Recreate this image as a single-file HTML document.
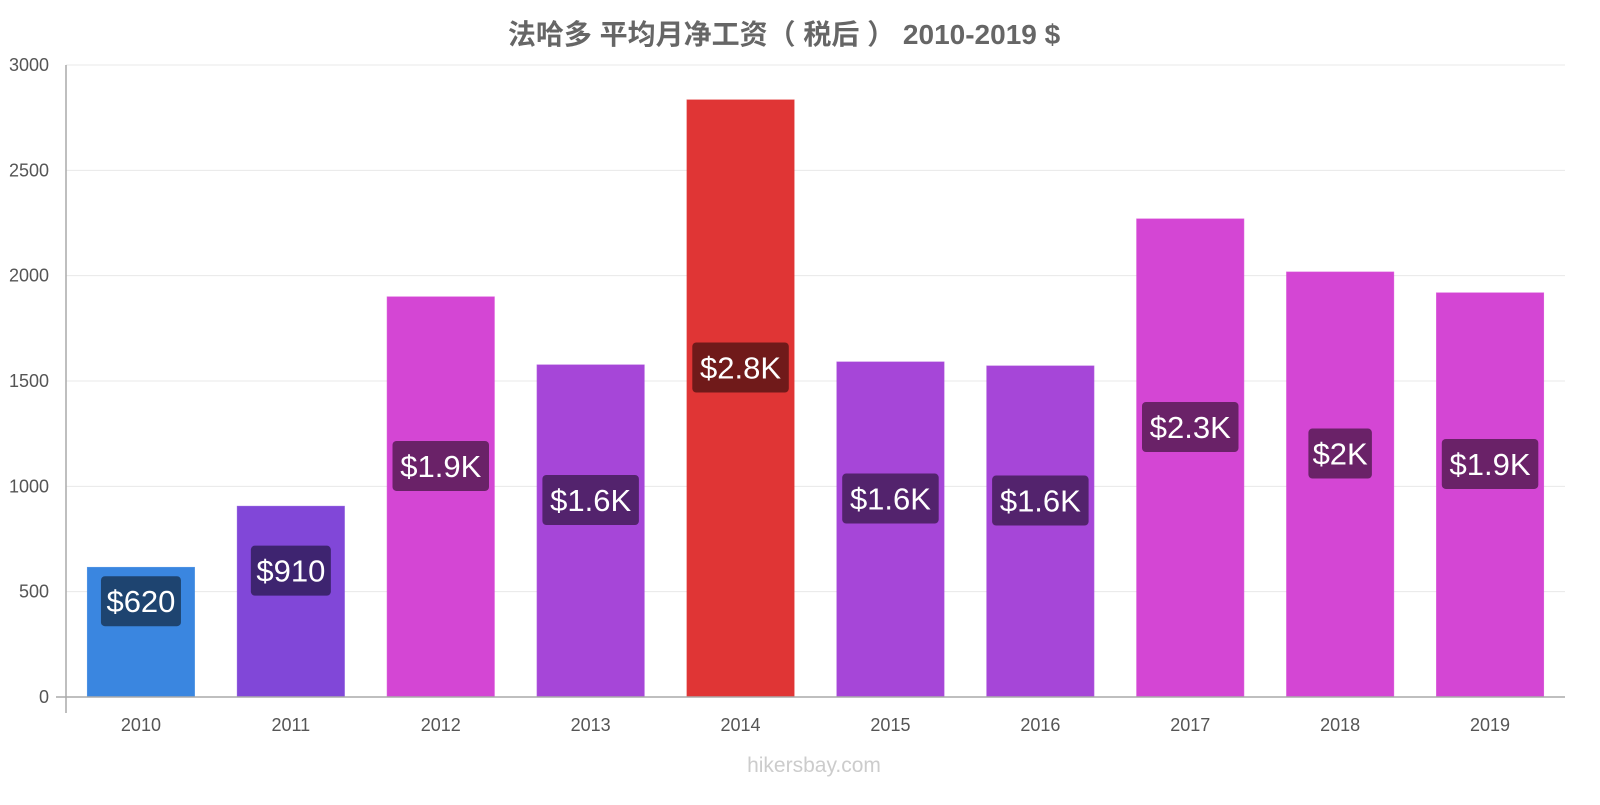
<!DOCTYPE html>
<html><head><meta charset="utf-8"><style>
body{margin:0;background:#fff;width:1600px;height:800px;overflow:hidden;font-family:"Liberation Sans","Noto Sans CJK SC",sans-serif}
</style></head><body>
<svg id="chart" width="1600" height="800" xmlns="http://www.w3.org/2000/svg" font-family="Liberation Sans, Noto Sans CJK SC, sans-serif">
<text x="784" y="44" text-anchor="middle" font-size="28" font-weight="bold" fill="#666" xml:space="preserve">法哈多 平均月净工资（ 税后 ） 2010-2019 $</text>
<g id="grid"></g><g id="bars"></g><g id="labels"></g>
<line x1="66" y1="65" x2="66" y2="713" stroke="#aaa" stroke-width="1.5"/>
<line x1="56" y1="697" x2="1565" y2="697" stroke="#aaa" stroke-width="1.5"/>
<text x="814" y="772" text-anchor="middle" font-size="21" fill="#ccc">hikersbay.com</text>
</svg>
<script>
const years=["2010","2011","2012","2013","2014","2015","2016","2017","2018","2019"];
const values=[615,905,1899,1576,2834,1590,1571,2269,2017,1918];
const valueLabels=["$620","$910","$1.9K","$1.6K","$2.8K","$1.6K","$1.6K","$2.3K","$2K","$1.9K"];
const yTicks=[0,500,1000,1500,2000,2500,3000];
const colors=["#3a86e0","#8147d8","#d446d4","#a646d8","#e03535","#a646d8","#a646d8","#d446d4","#d446d4","#d446d4"];
const boxColors=["#1e4470","#3e2470","#6a2268","#53236d","#701a1a","#53236d","#53236d","#6a2268","#6a2268","#6a2268"];
const NS="http://www.w3.org/2000/svg";
const x0=66,x1=1565,y0=697,yTop=65,yMax=3000;
const y=v=>y0-(v/yMax)*(y0-yTop);
const bw=(x1-x0)/years.length;
const xc=i=>x0+bw*(i+0.5);
function mk(t,a,p){const e=document.createElementNS(NS,t);for(const k in a)e.setAttribute(k,a[k]);p.appendChild(e);return e;}
const grid=document.getElementById('grid'),bars=document.getElementById('bars'),labels=document.getElementById('labels');
yTicks.forEach(t=>{
 const l=mk('line',{x1:x0,x2:x1,y1:y(t),y2:y(t),stroke:'#e8e8e8'},grid);
 
 
 const tx=mk('text',{x:49,y:y(t)+6,'text-anchor':'end','font-size':18,fill:'#555'},grid);
 tx.textContent=t;
 
 
});
years.forEach((yr,i)=>{
 const w=107,top=y(values[i]);
 const r=mk('rect',{x:xc(i)-w/2,y:top,width:w,height:y0-top,fill:colors[i],stroke:colors[i],'stroke-opacity':0.8},bars);
 
 
 const tk=mk('text',{x:xc(i),y:731,'text-anchor':'middle','font-size':18,fill:'#555'},labels);
 tk.textContent=yr;
 
 
 const cy=(top+y0)/2-31;
 const txt=valueLabels[i];
 const bwid=txt.length*16.5+14;
 const b=mk('rect',{x:xc(i)-bwid/2,y:cy-25,width:bwid,height:50,rx:4,fill:boxColors[i]},labels);
 
 
 const vt=mk('text',{x:xc(i),y:cy+11,'text-anchor':'middle','font-size':31,fill:'#fff'},labels);
 vt.textContent=txt;
 
 
});
</script>
</body></html>
